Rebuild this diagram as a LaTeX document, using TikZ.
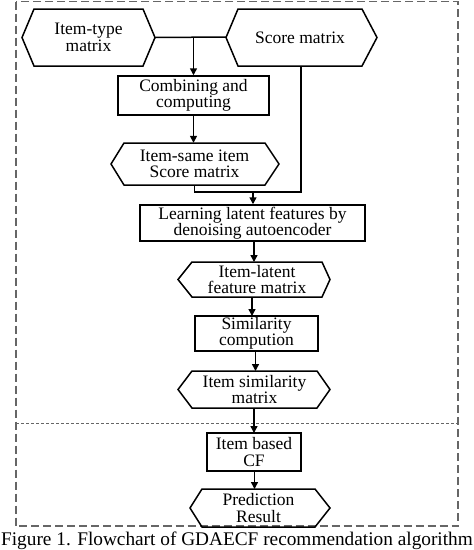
\documentclass[tikz,border=0pt]{standalone}
\usepackage{fontspec}
\setmainfont{Liberation Serif}
\usetikzlibrary{arrows.meta,calc}
\newcommand\hexn[8]{%
  \node[hexin, minimum width={(#4-#3)*1pt}, minimum height={(#7-#6)*1pt}] (#1) at ({(#3+#4)/2},{(#6+#7)/2}) {#8};
  \draw[hexline] (#2,{(#6+#7)/2}) -- (#3,#6) -- (#4,#6) -- (#5,{(#6+#7)/2}) -- (#4,#7) -- (#3,#7) -- cycle;}
\begin{document}
\begin{tikzpicture}[x=1pt,y=-1pt,
  lbl/.style={font=\fontsize{17.5}{16.5}\selectfont, align=center},
  hexin/.style={lbl, inner sep=0pt, rectangle},
  hexline/.style={draw, line width=1.5pt, line join=miter},
  boxn/.style={lbl, draw, line width=1.5pt, rectangle, inner sep=0pt},
  wire/.style={line width=1.5pt},
  arr/.style={wire, -{Triangle[length=7pt,width=7pt]}},
  frame/.style={draw=black!60, line width=1.2pt, dash pattern=on 8pt off 4pt},
  divider/.style={draw=black!60, line width=0.7pt, dash pattern=on 3pt off 2pt}]
\useasboundingbox (0,0) rectangle (474,550);
\fill[white] (0,0) rectangle (474,550);
% frame
\draw[frame] (16,1.5) rectangle (458,526);
\draw[divider] (16,423) -- (458,423);
% nodes
\hexn{itype}{22}{34}{143}{155}{9}{66}{Item-type\\matrix}
\hexn{score}{226}{238}{362}{377}{9}{66}{Score matrix}
\node[boxn, minimum width=151pt, minimum height=39pt] (comb) at (193.5,95.5) {Combining and\\computing};
\hexn{same}{111}{124}{265}{279}{143}{185}{Item-same item\\Score matrix}
\node[boxn, minimum width=225pt, minimum height=36pt] (learn) at (252.5,223) {Learning latent features by\\denoising autoencoder};
\hexn{latent}{178}{192}{322}{330}{262}{297}{Item-latent\\feature matrix}
\node[boxn, minimum width=123pt, minimum height=35pt] (sim) at (256.5,333.5) {Similarity\\compution};
\hexn{simmat}{178}{192}{317}{330}{371}{408}{Item similarity\\matrix}
\node[boxn, minimum width=94pt, minimum height=38pt] (cf) at (254,452) {Item based\\CF};
\hexn{pred}{190}{202}{315}{330}{489}{527}{Prediction\\Result}
% connectors
\coordinate (j1) at (193.5,37);
\draw[wire] (itype.east) ++(12,0) -- (226,37);
\draw[arr] (j1) -- (comb.north);
\draw[arr] (comb.south) -- (comb.south |- same.north);
\coordinate (j2) at (253,192);
\draw[wire] (same.south) -- ++(0,7) -| (301,66);
\draw[arr] (j2) -- (j2 |- learn.north);
\draw[arr] (learn.south -| 254,0) -- (254,262);
\draw[arr] (252,297) -- (252,316);
\draw[arr] (255.5,351) -- (255.5,371);
\draw[arr] (254,408) -- (254,433);
\draw[arr] (254.5,471) -- (254.5,489);
% caption
\node[font=\fontsize{19.3}{19}\selectfont, anchor=base, inner sep=0pt] (cap) at (237,545) {Figure 1. Flowchart of GDAECF recommendation algorithm};
\end{tikzpicture}
\end{document}
